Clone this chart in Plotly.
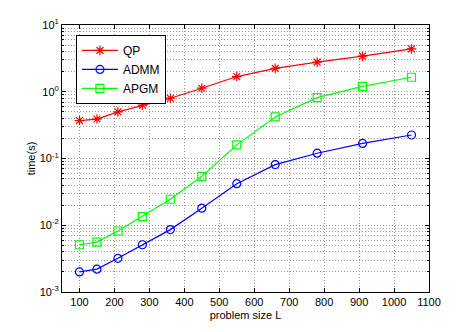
import plotly.graph_objects as go

# problem sizes and run times (seconds)
L = [100, 150, 210, 280, 360, 450, 550, 660, 780, 910, 1050]
qp = [0.37, 0.39, 0.50, 0.63, 0.80, 1.13, 1.69, 2.24, 2.78, 3.41, 4.38]
admm = [0.0020, 0.0022, 0.0032, 0.0051, 0.0086, 0.018, 0.042, 0.081, 0.12, 0.168, 0.225]
apgm = [0.0051, 0.0056, 0.0082, 0.0135, 0.0245, 0.054, 0.16, 0.42, 0.815, 1.2, 1.65]

y_ticks = [0.001, 0.01, 0.1, 1, 10]
y_ticktext = ["10<sup>-3</sup>", "10<sup>-2</sup>", "10<sup>-1</sup>",
              "10<sup>0</sup>", "10<sup>1</sup>"]

series = [
    ("QP", qp, "#ff0000", "asterisk-open", 8),
    ("ADMM", admm, "#0000ff", "circle-open", 8),
    ("APGM", apgm, "#00ff00", "square-open", 8),
]

fig = go.Figure()
for name, vals, color, sym, size in series:
    fig.add_trace(go.Scatter(
        x=L, y=vals, name=name, mode="lines+markers",
        line=dict(color=color, width=1.2),
        marker=dict(symbol=sym, size=size, color=color,
                    line=dict(color=color, width=1.2)),
    ))

font = "Liberation Sans, Arial, sans-serif"
grid = dict(showgrid=True, gridcolor="#9a9a9a", griddash="1px,2px", gridwidth=1)
fig.update_layout(
    width=474, height=332,
    margin=dict(l=62, r=45, t=25, b=37),
    paper_bgcolor="white", plot_bgcolor="white",
    font=dict(family=font, size=11, color="black"),
    legend=dict(x=0.038, y=0.963, xanchor="left", yanchor="top",
                bgcolor="white", bordercolor="black", borderwidth=1,
                font=dict(size=12), tracegroupgap=0, itemwidth=36),
    showlegend=True,
)
fig.update_xaxes(
    range=[50, 1100], tick0=100, dtick=100,
    showline=True, linecolor="black", linewidth=1, mirror="allticks",
    ticks="inside", ticklen=4, tickcolor="black",
    zeroline=False,
    title=dict(text="problem size L", standoff=4, font=dict(size=11)),
    tickfont=dict(size=11),
    **grid,
)
fig.update_yaxes(
    type="log", range=[-3, 1],
    tickmode="array", tickvals=y_ticks, ticktext=y_ticktext,
    showline=True, linecolor="black", linewidth=1, mirror="allticks",
    ticks="inside", ticklen=4, tickcolor="black",
    minor=dict(dtick="D1", ticks="inside", ticklen=2, tickcolor="black",
               showgrid=True, gridcolor="#9a9a9a", griddash="1px,2px", gridwidth=1),
    title=dict(text="time(s)", standoff=1, font=dict(size=11)),
    tickfont=dict(size=11),
    **grid,
)

fig.write_html("out.html")
